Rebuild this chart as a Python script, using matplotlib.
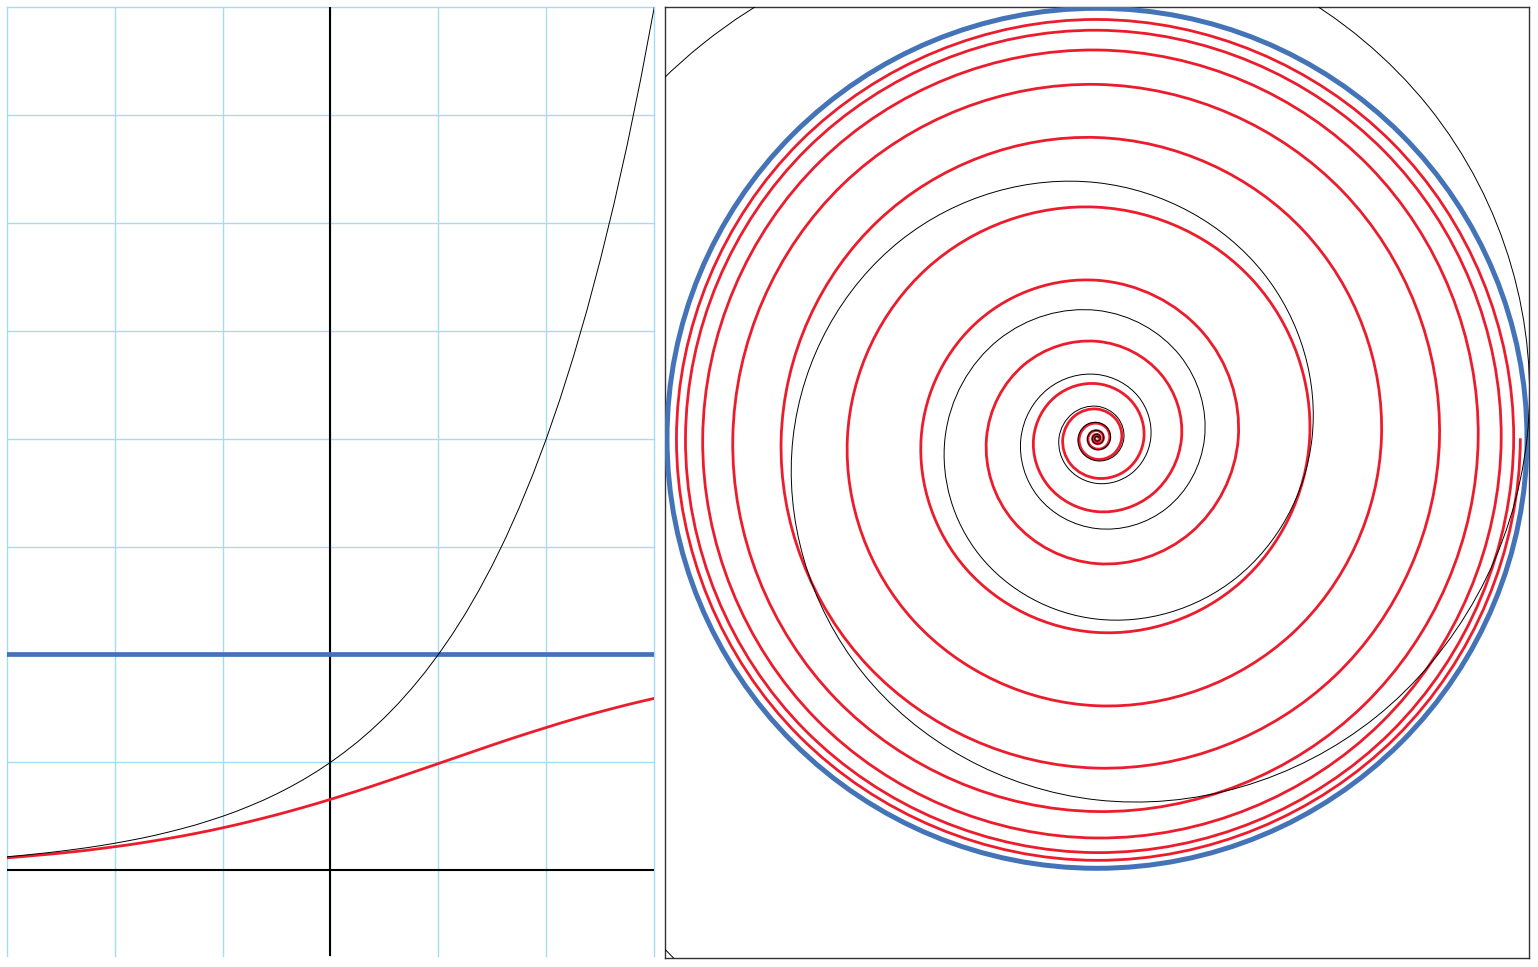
import numpy as np
import matplotlib
matplotlib.use('Agg')
import matplotlib.pyplot as plt
from matplotlib.path import Path
from matplotlib.patches import PathPatch, Circle

# x runs in steps of 1/8; on the right panel one unit of x is one full turn
turns = np.arange(-7, 7.0001, 0.125)

# red curve (logistic growth), read every 1/8 from x = -7 to 7
logistic = [
    0.008, 0.008, 0.009, 0.010, 0.011, 0.012, 0.013, 0.014, 0.015,
    0.017, 0.018, 0.020, 0.021, 0.023, 0.025, 0.028, 0.030,
    0.033, 0.036, 0.039, 0.042, 0.046, 0.050, 0.055, 0.059,
    0.065, 0.070, 0.076, 0.083, 0.090, 0.098, 0.106, 0.115,
    0.125, 0.136, 0.147, 0.159, 0.172, 0.186, 0.202, 0.218,
    0.235, 0.254, 0.274, 0.295, 0.317, 0.341, 0.366, 0.393,
    0.421, 0.451, 0.482, 0.514, 0.548, 0.583, 0.619, 0.657,
    0.696, 0.735, 0.776, 0.818, 0.860, 0.903, 0.946, 0.989,
    1.032, 1.075, 1.118, 1.161, 1.203, 1.244, 1.284, 1.323,
    1.362, 1.399, 1.435, 1.469, 1.502, 1.534, 1.564, 1.593,
    1.620, 1.646, 1.671, 1.694, 1.716, 1.736, 1.755, 1.773,
    1.790, 1.806, 1.821, 1.834, 1.847, 1.859, 1.870, 1.880,
    1.889, 1.898, 1.906, 1.914, 1.920, 1.927, 1.933, 1.938,
    1.943, 1.948, 1.952, 1.956, 1.959, 1.963, 1.966, 1.969,
]

# black curve (plain exponential), read every 1/8 from x = -7 to 3
exponential = [
    0.008, 0.009, 0.009, 0.010, 0.011, 0.012, 0.013, 0.014,
    0.016, 0.017, 0.019, 0.020, 0.022, 0.024, 0.026, 0.029,
    0.031, 0.034, 0.037, 0.041, 0.044, 0.048, 0.053, 0.057,
    0.063, 0.068, 0.074, 0.081, 0.088, 0.096, 0.105, 0.115,
    0.125, 0.136, 0.149, 0.162, 0.177, 0.193, 0.210, 0.229,
    0.250, 0.273, 0.297, 0.324, 0.354, 0.386, 0.420, 0.459,
    0.500, 0.545, 0.595, 0.648, 0.707, 0.771, 0.841, 0.917,
    1.000, 1.091, 1.189, 1.297, 1.414, 1.542, 1.682, 1.834,
    2.000, 2.181, 2.378, 2.594, 2.828, 3.084, 3.364, 3.668,
    4.000, 4.362, 4.757, 5.187, 5.657, 6.169, 6.727, 7.336,
    8.000,
]

capacity = 2.0  # blue level / circle

RED = '#ec1c2d'
BLUE = '#4474b7'
GRID = '#a3dcf3'

W, H = 1538, 967


def px_axes(fig, left, top, right, bottom):
    return fig.add_axes([left / W, 1 - bottom / H, (right - left) / W, (bottom - top) / H])


def spiral_path(turn, radius):
    # one cubic piece per sample step, tangents taken from the polar curve
    th = 2 * np.pi * np.asarray(turn, dtype=float)
    r = np.asarray(radius, dtype=float)
    dr = np.gradient(r, th)
    x, y = r * np.cos(th), r * np.sin(th)
    dx = dr * np.cos(th) - r * np.sin(th)
    dy = dr * np.sin(th) + r * np.cos(th)
    h = np.diff(th) / 3
    verts = [(x[0], y[0])]
    codes = [Path.MOVETO]
    for i in range(len(th) - 1):
        verts += [(x[i] + h[i] * dx[i], y[i] + h[i] * dy[i]),
                  (x[i + 1] - h[i] * dx[i + 1], y[i + 1] - h[i] * dy[i + 1]),
                  (x[i + 1], y[i + 1])]
        codes += [Path.CURVE4] * 3
    return Path(verts, codes)


fig = plt.figure(figsize=(W / 100, H / 100), dpi=100)

# left: growth against x
ax = px_axes(fig, 6.7, 7, 654.3, 955.5)
ax.set_xlim(-3, 3)
ax.set_ylim(-0.79, 8)
ax.axis('off')
for v in range(-3, 4):
    ax.axvline(v, color=GRID, lw=1.0, zorder=1, clip_on=False)
for h in range(1, 9):
    ax.axhline(h, color=GRID, lw=1.0, zorder=1, clip_on=False)
ax.axvline(0, color='black', lw=1.5, zorder=2)
ax.axhline(0, color='black', lw=1.5, zorder=2)
ax.axhline(capacity, color=BLUE, lw=3.4, zorder=3)
ax.plot(turns, logistic, color=RED, lw=2.0, zorder=4)
ax.plot(turns[:len(exponential)], exponential, color='black', lw=0.7, zorder=5)

# right: same values as radius, one turn per unit of x
scale = 215.0
cx, cy = 1097.0, 438.3
ax2 = px_axes(fig, 664.5, 7, 1529, 957.5)
ax2.set_xlim((664.5 - cx) / scale, (1529 - cx) / scale)
ax2.set_ylim((cy - 957.5) / scale, (cy - 7) / scale)
ax2.set_xticks([])
ax2.set_yticks([])
for sp in ax2.spines.values():
    sp.set_color('#333333')
    sp.set_linewidth(1.0)

ax2.add_patch(Circle((0, 0), capacity, fill=False, edgecolor=BLUE, lw=3.6, zorder=3))
ax2.add_patch(PathPatch(spiral_path(turns, logistic),
                        fill=False, edgecolor=RED, lw=2.0, zorder=4))
ax2.add_patch(PathPatch(spiral_path(turns[:len(exponential)], exponential),
                        fill=False, edgecolor='black', lw=0.7, zorder=5))

fig.savefig('out.png', dpi=100)
